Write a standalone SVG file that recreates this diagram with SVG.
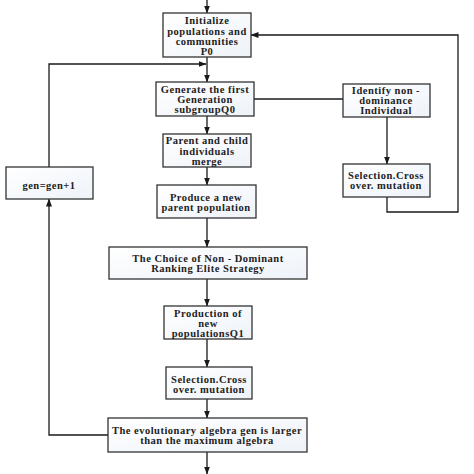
<svg xmlns="http://www.w3.org/2000/svg" width="474" height="474" viewBox="0 0 474 474">
<defs>
<linearGradient id="bg" x1="0" y1="0" x2="1" y2="1">
<stop offset="0" stop-color="#ffffff"/>
<stop offset="1" stop-color="#eef3f9"/>
</linearGradient>
<marker id="ah" markerWidth="8" markerHeight="8" viewBox="0 0 8 8" refX="7.5" refY="4" orient="auto" markerUnits="userSpaceOnUse">
<path d="M0,1 L8,4 L0,7 z" fill="#1a1a1a"/>
</marker>
<style>
.box{fill:url(#bg);stroke:#333;stroke-width:1.3}
.t{font-family:'Liberation Serif','Times New Roman',Times,serif;font-weight:bold;font-size:10.5px;letter-spacing:0.5px;fill:#222;text-anchor:middle}
.c{fill:none;stroke:#1a1a1a;stroke-width:1.3}
</style>
</defs>
<rect width="474" height="474" fill="#ffffff"/>
<g id="connectors">
<path class="c" d="M207,0 V13" marker-end="url(#ah)"/>
<path class="c" d="M207,57 V82" marker-end="url(#ah)"/>
<path class="c" d="M207,116 V134" marker-end="url(#ah)"/>
<path class="c" d="M207,167 V185" marker-end="url(#ah)"/>
<path class="c" d="M207,218 V247" marker-end="url(#ah)"/>
<path class="c" d="M207,279 V306" marker-end="url(#ah)"/>
<path class="c" d="M207,339 V367" marker-end="url(#ah)"/>
<path class="c" d="M207,399 V418" marker-end="url(#ah)"/>
<path class="c" d="M207,452 V474" marker-end="url(#ah)"/>
<path class="c" d="M254,99 H343"/>
<path class="c" d="M387,117 V164" marker-end="url(#ah)"/>
<path class="c" d="M387,197 V212 H458 V35 H251" marker-end="url(#ah)"/>
<path class="c" d="M108,435 H49 V199" marker-end="url(#ah)"/>
<path class="c" d="M49,167 V64 H206" marker-end="url(#ah)"/>
</g>
<g font-family="Liberation Serif, serif">
<g id="init">
<rect class="box" x="163" y="13" width="88" height="44"/>
<text class="t" x="207" y="23.5">Initialize</text>
<text class="t" x="207" y="34.5">populations and</text>
<text class="t" x="207" y="44.5">communities</text>
<text class="t" x="207" y="54.5">P0</text>
</g>
<g id="generate">
<rect class="box" x="156" y="82" width="98" height="34"/>
<text class="t" x="205" y="92.5">Generate the first</text>
<text class="t" x="205" y="102.5">Generation</text>
<text class="t" x="205" y="112.5">subgroupQ0</text>
</g>
<g id="merge">
<rect class="box" x="163" y="134" width="88" height="33"/>
<text class="t" x="207" y="143.5">Parent and child</text>
<text class="t" x="207" y="154.5">individuals</text>
<text class="t" x="207" y="164.5">merge</text>
</g>
<g id="produce">
<rect class="box" x="157" y="185" width="99" height="33"/>
<text class="t" x="206" y="200.5">Produce a new</text>
<text class="t" x="206" y="210.5">parent population</text>
</g>
<g id="choice">
<rect class="box" x="109" y="247" width="198" height="32"/>
<text class="t" x="208" y="261.5">The Choice of Non - Dominant</text>
<text class="t" x="208" y="271.5">Ranking Elite Strategy</text>
</g>
<g id="production">
<rect class="box" x="164" y="306" width="88" height="33"/>
<text class="t" x="208" y="316.5">Production of</text>
<text class="t" x="208" y="326.5">new</text>
<text class="t" x="208" y="336.5">populationsQ1</text>
</g>
<g id="selection">
<rect class="box" x="166" y="367" width="86" height="32"/>
<text class="t" x="209" y="382.5">Selection.Cross</text>
<text class="t" x="209" y="392.5">over. mutation</text>
</g>
<g id="evolutionary">
<rect class="box" x="108" y="418" width="199" height="34"/>
<text class="t" x="207" y="433.5">The evolutionary algebra gen is larger</text>
<text class="t" x="207" y="443.5">than the maximum algebra</text>
</g>
<g id="gen">
<rect class="box" x="6" y="167" width="87" height="32"/>
<text class="t" x="49" y="188.5">gen=gen+1</text>
</g>
<g id="identify">
<rect class="box" x="343" y="84" width="87" height="33"/>
<text class="t" x="386" y="93.5">Identify non -</text>
<text class="t" x="386" y="103.5">dominance</text>
<text class="t" x="386" y="113.5">Individual</text>
</g>
<g id="selection2">
<rect class="box" x="343" y="164" width="87" height="33"/>
<text class="t" x="386" y="178.5">Selection.Cross</text>
<text class="t" x="386" y="188.5">over. mutation</text>
</g>
</g>
</svg>
